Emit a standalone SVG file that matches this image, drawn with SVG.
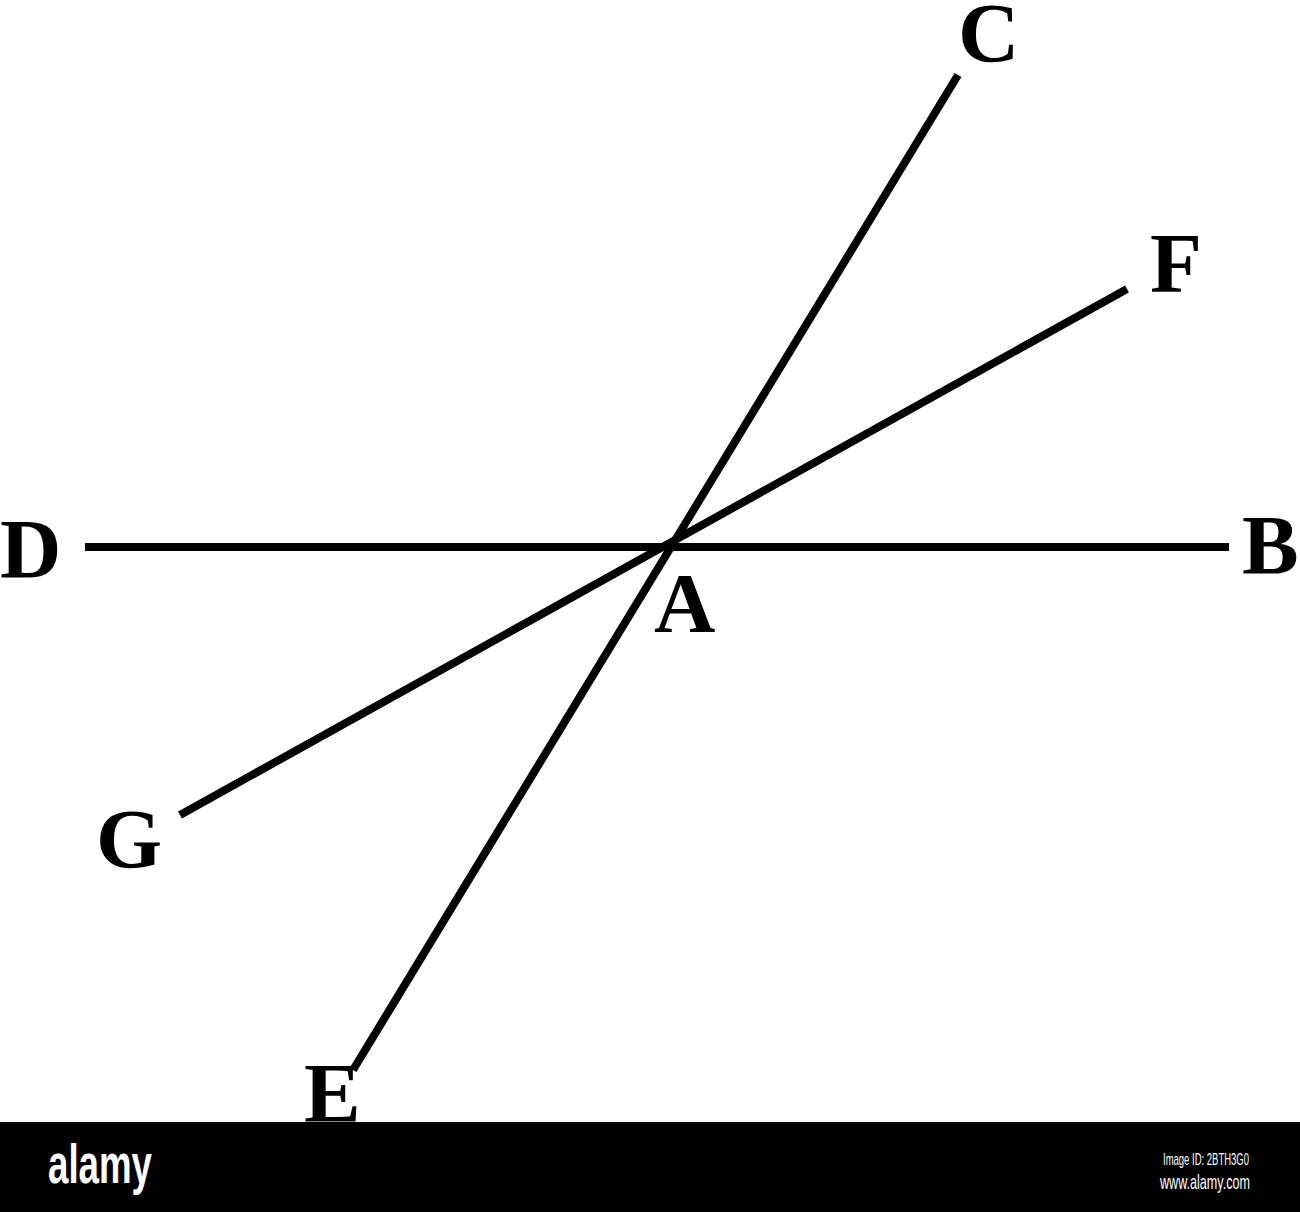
<svg xmlns="http://www.w3.org/2000/svg" width="1300" height="1212" viewBox="0 0 1300 1212">
<style>
.ln{stroke:#000;stroke-width:8;fill:none}
.lb{font-family:"Liberation Serif","Times New Roman",serif;font-weight:bold;font-size:85px;fill:#000}
.wm{font-family:"Liberation Sans",Arial,sans-serif;fill:#fff}
</style>
<rect width="1300" height="1212" fill="#fff"/>
<g id="connectors">
<line class="ln" x1="85" y1="547" x2="1229" y2="547"/>
<line class="ln" x1="958" y1="75" x2="353" y2="1070"/>
<line class="ln" x1="1127" y1="289" x2="180" y2="815"/>
</g>
<g id="C"><text class="lb" x="958" y="62">C</text></g>
<g id="F"><text class="lb" x="1150" y="292">F</text></g>
<g id="D"><text class="lb" x="0" y="578">D</text></g>
<g id="B"><text class="lb" x="1242" y="574">B</text></g>
<g id="A"><text class="lb" x="654" y="632">A</text></g>
<g id="G"><text class="lb" x="96" y="868">G</text></g>
<g id="E"><text class="lb" x="304" y="1122">E</text></g>
<g id="band">
<rect x="0" y="1122" width="1300" height="90" fill="#000"/>
<text class="wm" x="48" y="1183" font-size="56" font-weight="bold" textLength="104" lengthAdjust="spacingAndGlyphs">alamy</text>
<text class="wm" x="1163" y="1165" font-size="17" textLength="86" lengthAdjust="spacingAndGlyphs">Image ID: 2BTH3G0</text>
<text class="wm" x="1160" y="1189" font-size="21" textLength="90" lengthAdjust="spacingAndGlyphs">www.alamy.com</text>
</g>
</svg>
